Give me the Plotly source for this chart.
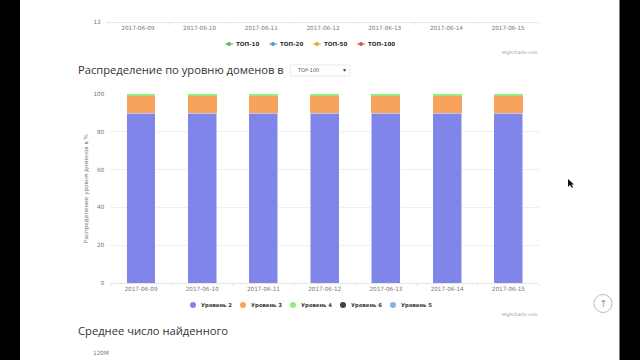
import plotly.graph_objects as go

dates = ["2017-06-09", "2017-06-10", "2017-06-11", "2017-06-12", "2017-06-13", "2017-06-14", "2017-06-15"]
level_names = ["Уровень 2", "Уровень 3", "Уровень 4", "Уровень 6", "Уровень 5"]
level_colors = ["#8085e9", "#f7a35c", "#90ed7d", "#434348", "#7cb5ec"]
level_values = [
    [89.7] * 7,
    [9.3] * 7,
    [1.0] * 7,
    [0] * 7,
    [0] * 7,
]
level_lines = [0.5, 0, 0, 0, 0]
top_names = ["ТОП-10", "ТОП-20", "ТОП-50", "ТОП-100"]
top_colors = ["#5cb85c", "#4a9cc7", "#f0a030", "#d9534f"]

W, H = 640, 360
FONT = "DejaVu Sans"
TXT = "#777777"


def py(y):
    return 1 - y / H


def px(x):
    return x / W


fig = go.Figure()

for name, color, vals, lw in zip(level_names, level_colors, level_values, level_lines):
    fig.add_trace(go.Bar(x=dates, y=vals, name=name, marker=dict(color=color, line=dict(width=lw, color="#ffffff")),
                         showlegend=False, xaxis="x", yaxis="y"))

fig.add_trace(go.Scatter(x=dates, y=[None] * 7, showlegend=False, mode="lines", xaxis="x2", yaxis="y2"))
fig.add_trace(go.Scatter(x=dates, y=[None] * 7, showlegend=False, mode="lines", xaxis="x3", yaxis="y3"))

small = dict(size=5.7, color=TXT, family=FONT)


def xax(anchor, left, right, show_labels=True, line=True):
    return dict(domain=[px(left), px(right)], anchor=anchor, type="category", categoryorder="array",
                categoryarray=dates, range=[-0.5, 6.5], showgrid=False, zeroline=False,
                showline=line, linecolor="#e6e6e6", linewidth=1,
                ticks="outside" if line else "", ticklen=2, tickcolor="#e6e6e6", tickson="boundaries",
                tickfont=small, showticklabels=show_labels, fixedrange=True)


annotations = [
    dict(text="Распределение по уровню доменов в", x=px(76), y=py(69), xanchor="left",
         font=dict(size=11.2, color="#333333", family="Open Sans")),
    dict(text="Среднее число найденного", x=px(76), y=py(330), xanchor="left",
         font=dict(size=11.2, color="#333333", family="Open Sans")),
    dict(text="TOP-100", x=px(295), y=py(70), xanchor="left",
         font=dict(size=5, color="#555555", family=FONT)),
    dict(text="▾", x=px(344), y=py(70), xanchor="center",
         font=dict(size=6, color="#444444", family=FONT)),
    dict(text="Highcharts.com", x=px(539), y=py(52.5), xanchor="right",
         font=dict(size=4.5, color="#999999", family=FONT)),
    dict(text="Highcharts.com", x=px(539), y=py(314), xanchor="right",
         font=dict(size=4.5, color="#999999", family=FONT)),
    dict(text="↑", x=px(603), y=py(303.5), xanchor="center",
         font=dict(size=10, color="#999999", family=FONT)),
]
shapes = [
    dict(type="rect", x0=px(290), x1=px(350), y0=py(76), y1=py(65),
         line=dict(color="#e8e8e8", width=1), fillcolor="#ffffff", layer="below"),
    dict(type="circle", x0=px(594), x1=px(612), y0=py(312.5), y1=py(294.5),
         line=dict(color="#bbbbbb", width=1), fillcolor="#ffffff"),
    dict(type="rect", x0=px(619.5), x1=1, y0=0, y1=1, line=dict(width=0), fillcolor="#000000"),
    dict(type="rect", x0=0, x1=px(20), y0=0, y1=1, line=dict(width=0), fillcolor="#000000"),
    dict(type="path",
         path=f"M {px(568)} {py(179)} L {px(568)} {py(187)} L {px(570)} {py(185)} L {px(572)} {py(188)} "
              f"L {px(573)} {py(187)} L {px(571.5)} {py(184.5)} L {px(574)} {py(184.5)} Z",
         line=dict(width=0), fillcolor="#111111"),
]

for i, (name, color) in enumerate(zip(level_names, level_colors)):
    cx = 193 + 50 * i
    shapes.append(dict(type="circle", x0=px(cx - 3), x1=px(cx + 3), y0=py(308), y1=py(302),
                       line=dict(width=0), fillcolor=color))
    annotations.append(dict(text=name, x=px(cx + 6), y=py(305), xanchor="left",
                            font=dict(size=5.3, color="#333333", family=FONT, weight="bold")))

for cx, name, color in zip([229, 273, 317, 361], top_names, top_colors):
    shapes.append(dict(type="line", x0=px(cx - 4), x1=px(cx + 4), y0=py(44), y1=py(44),
                       line=dict(color=color, width=1)))
    shapes.append(dict(type="circle", x0=px(cx - 2), x1=px(cx + 2), y0=py(46), y1=py(42),
                       line=dict(width=0), fillcolor=color))
    annotations.append(dict(text=name, x=px(cx + 5), y=py(44), xanchor="left",
                            font=dict(size=5.6, color="#333333", family=FONT, weight="bold")))

for a in annotations:
    a.update(xref="paper", yref="paper", yanchor="middle", showarrow=False)
for s in shapes:
    s.update(xref="paper", yref="paper")

fig.update_layout(
    width=W, height=H, autosize=False,
    margin=dict(l=0, r=0, t=0, b=0, autoexpand=False),
    paper_bgcolor="#ffffff", plot_bgcolor="#ffffff",
    barmode="stack", bargap=0.527, showlegend=False,
    font=dict(family=FONT, color=TXT),
    xaxis=xax("y", 110.4, 539),
    yaxis=dict(domain=[py(283), py(94)], anchor="x", range=[0, 100], tickvals=[0, 20, 40, 60, 80, 100],
               showgrid=True, gridcolor="#efefef", gridwidth=1, zeroline=False, showline=False,
               tickfont=small, ticks="outside", ticklen=4, tickcolor="#ffffff", fixedrange=True, automargin=False,
               title=dict(text="Распределение уровня доменов в %", font=small, standoff=4)),
    xaxis2=xax("y2", 107, 539),
    yaxis2=dict(domain=[py(22), 1], anchor="x2", range=[12, 14], tickvals=[12], showgrid=False,
                zeroline=False, showline=False, tickfont=small, fixedrange=True,
                ticks="outside", ticklen=4, tickcolor="#ffffff"),
    xaxis3=dict(xax("y3", 115, 538, show_labels=False, line=False), showticklabels=False),
    yaxis3=dict(domain=[0, py(353)], anchor="x3", range=[0, 120], tickvals=[120], ticktext=["120M"],
                showgrid=True, gridcolor="#efefef", zeroline=False, showline=False,
                tickfont=small, fixedrange=True, ticks="outside", ticklen=4, tickcolor="#ffffff"),
    annotations=annotations,
    shapes=shapes,
)

fig.write_html("out.html", config={"displayModeBar": False},
               post_script="document.body.style.margin='0';document.body.style.overflow='hidden';")
